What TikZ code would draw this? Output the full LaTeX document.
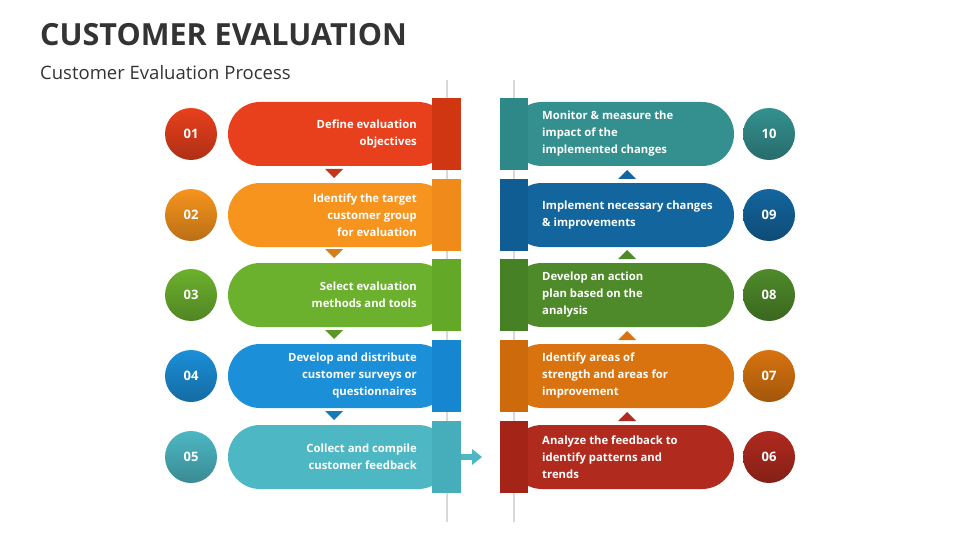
\documentclass[tikz,border=0pt]{standalone}
\usepackage{fontspec}
\setmainfont{Open Sans}
\definecolor{c1}{HTML}{E8401C}\definecolor{d1}{HTML}{D03612}
\definecolor{c2}{HTML}{F7941D}\definecolor{d2}{HTML}{F08A1A}
\definecolor{c3}{HTML}{6CB12E}\definecolor{d3}{HTML}{64A828}
\definecolor{c4}{HTML}{1B8FD8}\definecolor{d4}{HTML}{1686D0}
\definecolor{c5}{HTML}{4DB8C4}\definecolor{d5}{HTML}{45AEBA}
\definecolor{c10}{HTML}{34908F}\definecolor{d10}{HTML}{2E8887}
\definecolor{c9}{HTML}{13659E}\definecolor{d9}{HTML}{105D94}
\definecolor{c8}{HTML}{4E8A2A}\definecolor{d8}{HTML}{478126}
\definecolor{c7}{HTML}{D8730F}\definecolor{d7}{HTML}{CC6A0C}
\definecolor{c6}{HTML}{B02A1E}\definecolor{d6}{HTML}{A42418}
\begin{document}
\begin{tikzpicture}[x=1pt,y=-1pt,
  lbl/.style={text=white,font=\fontsize{11.3}{17}\selectfont\bfseries,inner sep=0pt},
  num/.style={circle,minimum size=52pt,text=white,font=\fontsize{13}{14}\selectfont\bfseries}]
\useasboundingbox (0,0) rectangle (960,540);
\node[anchor=west,font=\fontsize{30.5}{34}\selectfont\bfseries,text=black!80,inner sep=0pt] (title) at (40,35) {CUSTOMER EVALUATION};
\node[anchor=west,font=\fontsize{18.5}{20}\selectfont,text=black!80,inner sep=0pt] (sub) at (40,73) {Customer Evaluation Process};
\fill[black!15] (446,80) rectangle (448,522);
\fill[black!15] (513,80) rectangle (515,522);
\foreach \i/\y/\t in {1/134/{Define evaluation\\objectives},
  2/215/{Identify the target\\customer group\\for evaluation},
  3/295/{Select evaluation\\methods and tools},
  4/376/{Develop and distribute\\customer surveys or\\questionnaires},
  5/457/{Collect and compile\\customer feedback}}{
  \fill[c\i,rounded corners=32pt] (228,\y-32) rectangle (450,\y+32);
  \fill[d\i] (432,\y-36) rectangle (461,\y+36);
  \node[num,shading=axis,top color=c\i,bottom color=c\i!75!black] (n\i) at (191,\y) {0\i};
  \node[lbl,align=right,anchor=east] (t\i) at (417,\y) {\t};
}
\foreach \i/\y/\n/\t in {10/134/10/{Monitor \& measure the\\impact of the\\implemented changes},
  9/215/09/{Implement necessary changes\\\& improvements},
  8/295/08/{Develop an action\\plan based on the\\analysis},
  7/376/07/{Identify areas of\\strength and areas for\\improvement},
  6/457/06/{Analyze the feedback to\\identify patterns and\\trends}}{
  \fill[c\i,rounded corners=32pt] (510,\y-32) rectangle (734,\y+32);
  \fill[d\i] (500,\y-36) rectangle (528,\y+36);
  \node[num,shading=axis,top color=c\i,bottom color=c\i!75!black] (n\i) at (769,\y) {\n};
  \node[lbl,align=left,anchor=west] (t\i) at (542,\y) {\t};
}
\foreach \y/\c in {174/c1,254/c2,335/c3,416/c4}{
  \fill[\c!85!black] (325,\y-5) -- (343,\y-5) -- (334,\y+4) -- cycle;}
\foreach \y/\c in {174/c9,254/c8,335/c7,416/c6}{
  \fill[\c] (618,\y+5) -- (636,\y+5) -- (627,\y-4) -- cycle;}
\fill[c5] (461,454) rectangle (472,460);
\fill[c5] (472,449) -- (482,457) -- (472,465) -- cycle;
\end{tikzpicture}
\end{document}
